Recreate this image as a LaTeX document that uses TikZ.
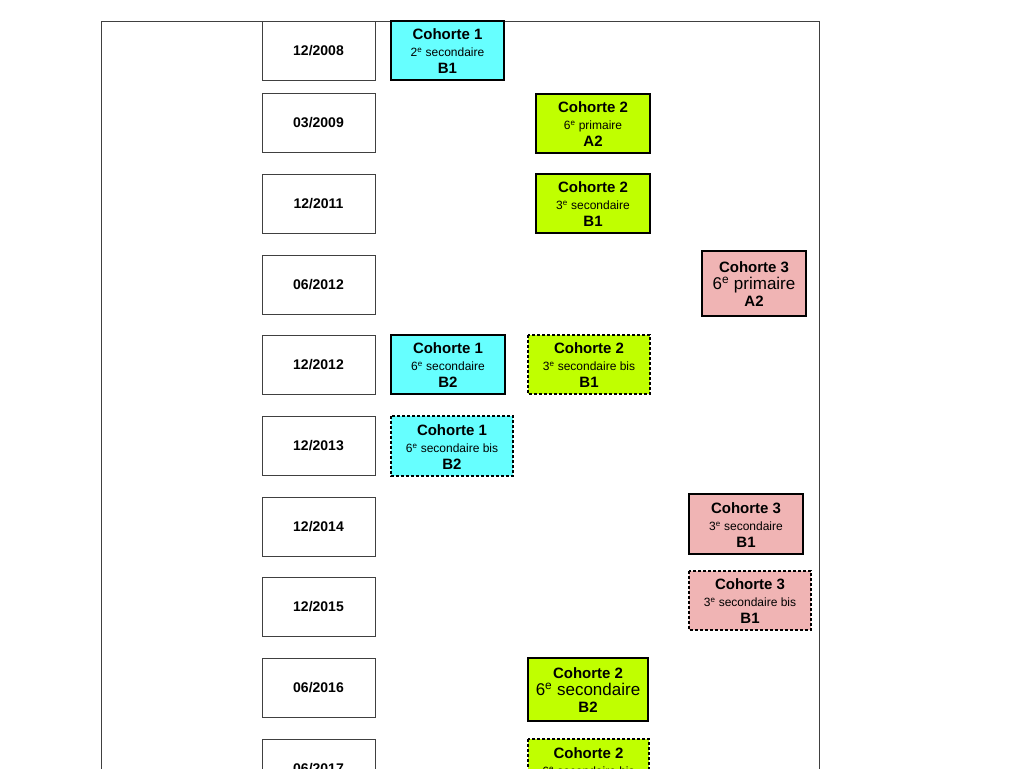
\documentclass[tikz,border=0pt]{standalone}
\usepackage{fontspec}
\setmainfont{Liberation Sans}
\definecolor{cy}{HTML}{66FFFF}
\definecolor{gr}{HTML}{C0FF00}
\definecolor{pk}{HTML}{F0B4B4}
\tikzset{
 date/.style={draw=black!75,line width=0.8pt},
 coh/.style={draw=black,line width=2.5pt},
 bis/.style={draw=black,line width=2.5pt,dash pattern=on 3pt off 2pt},
 lab/.style={align=center,font=\fontsize{12}{17}\selectfont,inner sep=0pt}
}
\newcommand\cbx[9]{% style,color,x1,y1,x2,y2,title,sub,code
 \draw[#1,fill=#2] (#3,#4) rectangle (#5,#6);
 \node[lab] at ({(#3+#5)/2},{(#4+#6)/2+1}) {{\bfseries\fontsize{15}{17}\selectfont #7}\\#8\\{\bfseries\fontsize{15}{17}\selectfont #9}};}
\newcommand\bigsub{\fontsize{17}{17}\selectfont}
\begin{document}
\begin{tikzpicture}[x=1pt,y=-1pt]
\useasboundingbox (0,0) rectangle (1024,768);
\draw[black!75,line width=0.7pt] (101,780) -- (101,21) -- (819,21) -- (819,780);
\foreach \y/\t [count=\i] in {21/12\slash 2008,93/03\slash 2009,174/12\slash 2011,255/06\slash 2012,335/12\slash 2012,416/12\slash 2013,497/12\slash 2014,577/12\slash 2015,658/06\slash 2016,739/06\slash 2017}{
 \draw[date] (262,\y) rectangle (375,\y+59);
 \node[font=\bfseries\fontsize{14}{16}\selectfont] (d\i) at (318.5,\y+29.5) {\t};
}
\cbx{coh}{cy}{391}{21}{504}{80}{Cohorte 1}{2\textsuperscript{e} secondaire}{B1}
\cbx{coh}{gr}{536}{94}{650}{153}{Cohorte 2}{6\textsuperscript{e} primaire}{A2}
\cbx{coh}{gr}{536}{174}{650}{233}{Cohorte 2}{3\textsuperscript{e} secondaire}{B1}
\cbx{coh}{pk}{702}{251}{806}{316}{Cohorte 3}{\bigsub 6\textsuperscript{e} primaire}{A2}
\cbx{coh}{cy}{391}{335}{505}{394}{Cohorte 1}{6\textsuperscript{e} secondaire}{B2}
\cbx{bis}{gr}{528}{335}{650}{394}{Cohorte 2}{3\textsuperscript{e} secondaire bis}{B1}
\cbx{bis}{cy}{391}{416}{513}{476}{Cohorte 1}{6\textsuperscript{e} secondaire bis}{B2}
\cbx{coh}{pk}{689}{494}{803}{554}{Cohorte 3}{3\textsuperscript{e} secondaire}{B1}
\cbx{bis}{pk}{689}{571}{811}{630}{Cohorte 3}{3\textsuperscript{e} secondaire bis}{B1}
\cbx{coh}{gr}{528}{658}{648}{721}{Cohorte 2}{\bigsub 6\textsuperscript{e} secondaire}{B2}
\cbx{bis}{gr}{528}{739}{649}{799}{Cohorte 2}{6\textsuperscript{e} secondaire bis}{B2}
\end{tikzpicture}
\end{document}
